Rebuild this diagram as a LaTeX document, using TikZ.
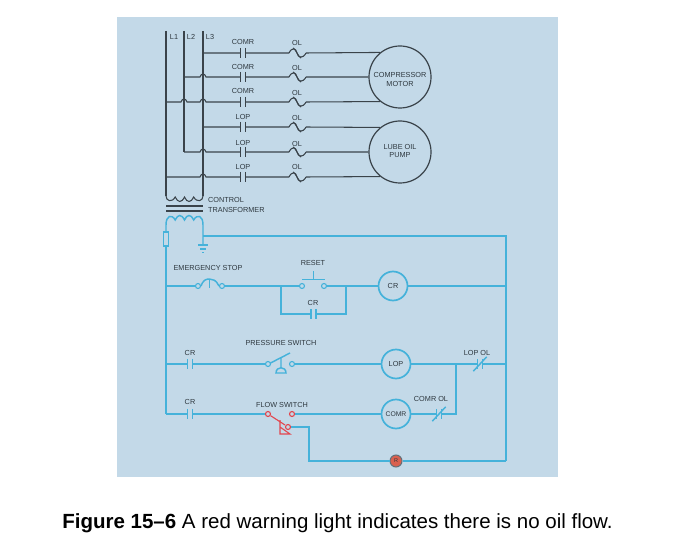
\documentclass[tikz,border=0pt]{standalone}
\usepackage{fontspec}
\setmainfont{Liberation Sans}
\definecolor{panel}{HTML}{C3D9E8}
\definecolor{wireblue}{HTML}{45B2DA}
\definecolor{wireblack}{HTML}{3A434A}
\definecolor{labelc}{HTML}{2E383F}
\definecolor{alarm}{HTML}{E2474F}
\definecolor{lamp}{HTML}{D9604F}
\tikzset{
  bk/.style={draw=wireblack,line width=1.05pt},
  bl/.style={draw=wireblue,line width=1.45pt},
  rd/.style={draw=alarm,line width=1.1pt},
  lbl/.style={text=labelc,font=\fontsize{7.3}{8.5}\selectfont,inner sep=0pt},
  coilbox/.style={circle,minimum size=29pt,inner sep=0pt,draw=wireblue,line width=1.7pt,fill=panel},
  motorc/.style={circle,minimum size=62pt,inner sep=0pt,draw=wireblack,line width=1.2pt,fill=panel},
  term/.style={circle,minimum size=5pt,inner sep=0pt,fill=panel,line width=1.1pt},
  cbox/.style={minimum width=5pt,minimum height=10pt,inner sep=0pt},
}
% normally open contact: name, x, y, style
\newcommand\nocontact[4]{%
  \node[cbox] (#1) at (#2,#3) {};
  \draw[#4] (#1.north west)--(#1.south west) (#1.north east)--(#1.south east);}
% normally closed contact (with a slash)
\newcommand\nccontact[4]{%
  \nocontact{#1}{#2}{#3}{#4}
  \draw[#4] ([shift={(-4pt,-2pt)}]#1.south west)--([shift={(4pt,2pt)}]#1.north east);}
% thermal overload heater: name, x, y
\newcommand\heater[3]{%
  \coordinate (#1-l) at (#2-8,#3);
  \coordinate (#1-r) at (#2+9,#3);
  \draw[bk] (#1-l) .. controls (#2-5,#3-6) and (#2-1,#3-5) .. (#2,#3)
     .. controls (#2+1,#3+5) and (#2+6,#3+6) .. (#1-r);
  \draw[bk] (#2-4,#3-5) .. controls (#2-1,#3-4) and (#2+1,#3+4) .. (#2+4,#3+5);}
\begin{document}
\begin{tikzpicture}[x=1pt,y=-1pt]
\useasboundingbox (0,0) rectangle (700,545);
\fill[panel] (117,17) rectangle (558,477);

% --- power section ---
\coordinate (L1t) at (166,31); \coordinate (L2t) at (184,31); \coordinate (L3t) at (203,31);
\coordinate (L1b) at (166,196); \coordinate (L2b) at (184,152); \coordinate (L3b) at (203,196);
\draw[bk] (L1t)--(L1b) (L2t)--(L2b) (L3t)--(L3b);
\node[lbl] (tL1) at (174,37) {L1};
\node[lbl] (tL2) at (191,37) {L2};
\node[lbl] (tL3) at (210,37) {L3};

\node[motorc] (motor) at (400,77) {};
\node[lbl,align=center] (tmotor) at (400,79.5) {COMPRESSOR\\MOTOR};
\node[motorc] (pump) at (400,152) {};
\node[lbl,align=center] (tpump) at (400,151) {LUBE OIL\\PUMP};

\nocontact{c1}{243}{53}{bk}
\nocontact{c2}{243}{77}{bk}
\nocontact{c3}{243}{102}{bk}
\nocontact{c4}{243}{127}{bk}
\nocontact{c5}{243}{152}{bk}
\nocontact{c6}{243}{177}{bk}
\heater{h1}{297}{53}
\heater{h2}{297}{77}
\heater{h3}{297}{102}
\heater{h4}{297}{127}
\heater{h5}{297}{152}
\heater{h6}{297}{177}

\node[lbl] (t1) at (243,42) {COMR};
\node[lbl] (t2) at (243,67) {COMR};
\node[lbl] (t3) at (243,91) {COMR};
\node[lbl] (t4) at (243,117) {LOP};
\node[lbl] (t5) at (243,143) {LOP};
\node[lbl] (t6) at (243,167) {LOP};
\node[lbl] (o1) at (297,43) {OL};
\node[lbl] (o2) at (297,68) {OL};
\node[lbl] (o3) at (297,93) {OL};
\node[lbl] (o4) at (297,118) {OL};
\node[lbl] (o5) at (297,144) {OL};
\node[lbl] (o6) at (297,167) {OL};

% rows, hopping over the lines they cross
\draw[bk] (203,53) -- (c1.west) (c1.east) -- (h1-l) (h1-r) -- (motor.129);
\draw[bk] (184,77) -- (200,77) .. controls (201,73) and (205,73) .. (206,77) -- (c2.west) (c2.east) -- (h2-l) (h2-r) -- (motor.west);
\draw[bk] (166,102) -- (181,102) .. controls (182,98) and (186,98) .. (187,102) -- (200,102) .. controls (201,98) and (205,98) .. (206,102) -- (c3.west) (c3.east) -- (h3-l) (h3-r) -- (motor.231);
\draw[bk] (203,127) -- (c4.west) (c4.east) -- (h4-l) (h4-r) -- (pump.129);
\draw[bk] (L2b) -- (200,152) .. controls (201,148) and (205,148) .. (206,152) -- (c5.west) (c5.east) -- (h5-l) (h5-r) -- (pump.west);
\draw[bk] (166,177) -- (200,177) .. controls (201,173) and (205,173) .. (206,177) -- (c6.west) (c6.east) -- (h6-l) (h6-r) -- (pump.231);

% --- transformer ---
\draw[bk] (L1b) .. controls (166,201) and (172,203) .. (175.2,197)
  .. controls (178,203) and (181.5,203) .. (184.5,197)
  .. controls (187,203) and (191,203) .. (193.7,197)
  .. controls (197,203) and (203,201) .. (L3b);
\draw[bk] (166,206)--(203,206) (166,211)--(203,211);
\draw[bl] (166,232) -- (166,225) .. controls (166,215) and (172,214) .. (175.2,220)
  .. controls (178,214) and (181.5,214) .. (184.5,220)
  .. controls (187,214) and (191,214) .. (193.7,220)
  .. controls (197,214) and (203,215) .. (203,225) -- (203,245);
\node[lbl,align=left,anchor=north west] (ttrans) at (208,197.5) {CONTROL\\[1.2pt]TRANSFORMER};

% fuse and ground
\node[draw=wireblue,line width=1.3pt,minimum width=5pt,minimum height=14pt,inner sep=0pt] (fuse) at (166,239) {};
\draw[bl] (198,245)--(208,245) (200,249)--(206,249) (202,252.5)--(204,252.5);

% --- control section ---
\coordinate (LT) at (203,236);
\coordinate (RT) at (506,236);
\coordinate (RB) at (506,461);
\coordinate (LB) at (166,414);
\draw[bl] (fuse.south) -- (LB);
\draw[bl] (LT) -- (RT) -- (RB);

% rung 1
\node[term,draw=wireblue] (es1) at (198,286) {};
\node[term,draw=wireblue] (es2) at (222,286) {};
\node[term,draw=wireblue] (rs1) at (302,286) {};
\node[term,draw=wireblue] (rs2) at (324,286) {};
\node[coilbox] (cr) at (393,286) {};
\node[lbl] (tcr) at (393,286) {CR};
\coordinate (bl1) at (281,286);
\coordinate (br1) at (346,286);
\nocontact{crh}{313.5}{314}{bl}
\draw[bl] (166,286) -- (es1) (es2) -- (bl1) -- (rs1) (rs2) -- (br1) -- (cr) (cr) -- (506,286);
\draw[bl] (bl1) -- (281,314) -- (crh.west) (crh.east) -- (346,314) -- (br1);
\draw[bl] (201,286) .. controls (203,280) and (206,279) .. (209.5,279) .. controls (213,279) and (216,280) .. (219,286);
\draw[bl] (209.5,279) -- (209.5,288);
\draw[bl] (302,279.5) -- (325,279.5) (313.5,279.5) -- (313.5,271);
\node[lbl] (tes) at (208,268) {EMERGENCY STOP};
\node[lbl] (trs) at (313,262.5) {RESET};
\node[lbl] (tcrh) at (313,303) {CR};

% rung 2
\nocontact{cr2}{190}{364}{bl}
\node[term,draw=wireblue] (ps1) at (268,364) {};
\node[term,draw=wireblue] (ps2) at (292,364) {};
\node[coilbox] (lop) at (396,364) {};
\node[lbl] (tlop) at (396,364) {LOP};
\coordinate (jn) at (456,364);
\nccontact{lopol}{480}{364}{bl}
\draw[bl] (166,364) -- (cr2.west) (cr2.east) -- (ps1) (ps2) -- (lop) (lop) -- (jn) -- (lopol.west) (lopol.east) -- (506,364);
\draw[bl] (270.5,363) -- (290,353) (281,358) -- (281,368);
\draw[bl] (276,373) .. controls (276,366) and (286,366) .. (286,373) -- cycle;
\node[lbl] (tps) at (281,342.5) {PRESSURE SWITCH};
\node[lbl] (tcr2) at (190,352.5) {CR};
\node[lbl] (tlopol) at (477,352.5) {LOP OL};

% rung 3
\nocontact{cr3}{190}{414}{bl}
\node[term,draw=alarm] (fs1) at (268,414) {};
\node[term,draw=alarm] (fs2) at (292,414) {};
\node[term,draw=alarm] (fs3) at (288,427) {};
\node[coilbox] (comr) at (396,414) {};
\node[lbl,font=\fontsize{6.8}{8}\selectfont] (tcomr) at (396,414) {COMR};
\nccontact{comrol}{439}{414}{bl}
\draw[bl] (166,414) -- (cr3.west) (cr3.east) -- (fs1) (fs2) -- (comr) (comr) -- (comrol.west) (comrol.east) -- (456,414) -- (jn);
\draw[rd] (fs1) -- (285,425);
\draw[rd] (280,420) -- (280,434) -- (290,434) -- (280,427);
\node[lbl] (tfs) at (282,405) {FLOW SWITCH};
\node[lbl] (tcr3) at (190,402) {CR};
\node[lbl] (tcomrol) at (431,399) {COMR OL};

% rung 4: warning light
\node[circle,minimum size=12pt,inner sep=0pt,fill=lamp,draw=wireblack!70!panel,line width=1pt] (lampR) at (396,461) {};
\node[lbl,font=\fontsize{5.5}{6}\selectfont] (tR) at (396,461) {R};
\draw[bl] (fs3) -- (309,427) -- (309,461) -- (lampR) (lampR) -- (RB);

% caption
\node[text=black,font=\fontsize{20.5}{24}\selectfont,inner sep=0pt,anchor=base] (cap) at (337.5,528) {\textbf{Figure 15–6} A red warning light indicates there is no oil flow.};
\end{tikzpicture}
\end{document}
